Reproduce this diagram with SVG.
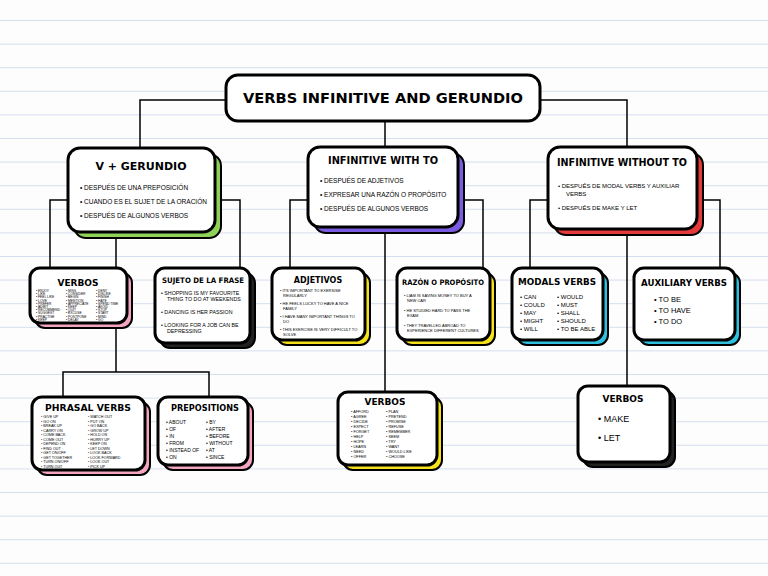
<svg xmlns="http://www.w3.org/2000/svg" width="768" height="576" viewBox="0 0 768 576">
<defs>
<pattern id="lines" width="768" height="23.6" patternUnits="userSpaceOnUse" y="20">
<line x1="0" y1="0.5" x2="768" y2="0.5" stroke="#d5deee" stroke-width="1"/>
</pattern>
</defs>
<style>
.box{fill:#fff;stroke:#000;stroke-width:3}
.sh{stroke:#000;stroke-width:2}
.h{font-family:"DejaVu Sans",sans-serif;font-weight:bold;fill:#000;text-anchor:middle}
.t{font-family:"Liberation Sans",Arial,sans-serif;fill:#000}
.c{fill:none;stroke:#000;stroke-width:1.5}
</style>
<rect width="768" height="576" fill="#fdfdfd"/>
<rect width="768" height="576" fill="url(#lines)"/>
<g id="connectors">
<path class="c" d="M140 150V100H230M538 100H627V150M385 120V150"/>
<path class="c" d="M68 200H50V268M215 200H240V268M116 232V372M63 397V372H209V397"/>
<path class="c" d="M308 200H290V268M458 200H483V268M385 227V392"/>
<path class="c" d="M548 200H530V268M697 200H720V268M627 229V386"/>
</g>
<g id="title">
<rect x="226" y="75" width="314" height="46" rx="12" class="box"/>
<text x="383" y="103" class="h" font-size="14" textLength="280" lengthAdjust="spacingAndGlyphs">VERBS INFINITIVE AND GERUNDIO</text>
</g>
<g id="vgerundio">
<rect x="74" y="154" width="147" height="84" rx="12" fill="#8fd25a" class="sh"/>
<rect x="68" y="148" width="147" height="84" rx="12" class="box"/>
<text x="141" y="170" class="h" font-size="11">V + GERUNDIO</text>
<g class="t" font-size="6.5"><text x="80" y="190">•  DESPUÉS DE UNA PREPOSICIÓN</text><text x="80" y="204">•  CUANDO ES EL SUJET DE LA ORACIÓN</text><text x="80" y="218">•  DESPUÉS DE ALGUNOS VERBOS</text></g>
</g>
<g id="inftwith">
<rect x="314" y="153" width="150" height="80" rx="12" fill="#7b5ce0" class="sh"/>
<rect x="308" y="147" width="150" height="80" rx="12" class="box"/>
<text x="383" y="164" class="h" font-size="10" textLength="110" lengthAdjust="spacingAndGlyphs">INFINITIVE WITH TO</text>
<g class="t" font-size="6.5"><text x="320" y="183">•  DESPUÉS DE ADJETIVOS</text><text x="320" y="197">•  EXPRESAR UNA RAZÓN O PROPÓSITO</text><text x="320" y="211">•  DESPUÉS DE ALGUNOS VERBOS</text></g>
</g>
<g id="infwithout">
<rect x="554" y="153" width="149" height="82" rx="12" fill="#e53a3a" class="sh"/>
<rect x="548" y="147" width="149" height="82" rx="12" class="box"/>
<text x="622" y="166" class="h" font-size="10" textLength="130" lengthAdjust="spacingAndGlyphs">INFINITIVE WITHOUT TO</text>
<g class="t" font-size="6"><text x="558" y="188">•  DESPUÉS DE MODAL VERBS Y AUXILIAR</text><text x="566" y="196">VERBS</text><text x="558" y="210">•  DESPUÉS DE MAKE Y LET</text></g>
</g>
<g id="verbos1">
<rect x="35" y="273" width="97" height="55" rx="10" fill="#f4a6c0" class="sh"/>
<rect x="30" y="268" width="97" height="55" rx="10" class="box"/>
<text x="78" y="286" class="h" font-size="9">VERBOS</text>
<g class="t" font-size="3.3"><text x="36" y="292">• ENJOY</text><text x="36" y="295.2">• LIKE</text><text x="36" y="298.4">• FEEL LIKE</text><text x="36" y="301.6">• LOVE</text><text x="36" y="304.8">• PREFER</text><text x="36" y="308">• ADMIT</text><text x="36" y="311.2">• RECOMMEND</text><text x="36" y="314.4">• SUGGEST</text><text x="36" y="317.6">• PRACTISE</text><text x="36" y="320.8">• KEEP</text>
<text x="66" y="292">• MISS</text><text x="66" y="295.2">• CONSIDER</text><text x="66" y="298.4">• BEGIN</text><text x="66" y="301.6">• MENTION</text><text x="66" y="304.8">• APPRECIATE</text><text x="66" y="308">• KEEP</text><text x="66" y="311.2">• QUIT</text><text x="66" y="314.4">• EXCUSE</text><text x="66" y="317.6">• POSTPONE</text><text x="66" y="320.8">• DELAY</text>
<text x="96" y="292">• DENY</text><text x="96" y="295.2">• DISLIKE</text><text x="96" y="298.4">• FINISH</text><text x="96" y="301.6">• HATE</text><text x="96" y="304.8">• SPEND TIME</text><text x="96" y="308">• AVOID</text><text x="96" y="311.2">• STOP</text><text x="96" y="314.4">• START</text><text x="96" y="317.6">• MIND</text><text x="96" y="320.8">• GO</text></g>
</g>
<g id="sujeto">
<rect x="160" y="273" width="95" height="75" rx="10" fill="#222" class="sh"/>
<rect x="155" y="268" width="95" height="75" rx="10" class="box"/>
<text x="203" y="283" class="h" font-size="7.5" textLength="82" lengthAdjust="spacingAndGlyphs">SUJETO DE LA FRASE</text>
<g class="t" font-size="5.3"><text x="161" y="295">•  SHOPPING IS MY FAVOURITE</text><text x="167" y="301">THING TO DO AT WEEKENDS</text><text x="161" y="314">•  DANCING IS HER PASSION</text><text x="161" y="327">•  LOOKING FOR A JOB CAN BE</text><text x="167" y="333">DEPRESSING</text></g>
</g>
<g id="adjetivos">
<rect x="277" y="273" width="93" height="72" rx="10" fill="#f5e21a" class="sh"/>
<rect x="272" y="268" width="93" height="72" rx="10" class="box"/>
<text x="318" y="283" class="h" font-size="8">ADJETIVOS</text>
<g class="t" font-size="4"><text x="280" y="292">• ITS IMPORTANT TO EXERSISE</text><text x="283" y="296.5">REGULARLY</text><text x="280" y="305">• HE FEELS LUCKY TO HAVE A NICE</text><text x="283" y="309.5">FAMILY</text><text x="280" y="318">• I HAVE MANY IMPORTANT THINGS TO</text><text x="283" y="322.5">DO</text><text x="280" y="331">• THIS EXERCISE IS VERY DIFFICULT TO</text><text x="283" y="335.5">SOLVE</text></g>
</g>
<g id="razon">
<rect x="402" y="273" width="93" height="72" rx="10" fill="#f5e21a" class="sh"/>
<rect x="397" y="268" width="93" height="72" rx="10" class="box"/>
<text x="443" y="285" class="h" font-size="7.5" textLength="82" lengthAdjust="spacingAndGlyphs">RAZÓN O PROPÓSITO</text>
<g class="t" font-size="4"><text x="404" y="297">• LIAM IS SAVING MONEY TO BUY A</text><text x="407" y="301.5">NEW CAR</text><text x="404" y="312">• HE STUDIED HARD TO PASS THE</text><text x="407" y="316.5">EXAM</text><text x="404" y="327">• THEY TRAVELLED ABROAD TO</text><text x="407" y="331.5">EXPERIENCE DIFFERENT CULTURES</text></g>
</g>
<g id="modals">
<rect x="517" y="273" width="91" height="72" rx="10" fill="#2fc0e0" class="sh"/>
<rect x="512" y="268" width="91" height="72" rx="10" class="box"/>
<text x="557" y="285" class="h" font-size="8" textLength="78" lengthAdjust="spacingAndGlyphs">MODALS VERBS</text>
<g class="t" font-size="6"><text x="520" y="299">•  CAN</text><text x="520" y="307">•  COULD</text><text x="520" y="315">•  MAY</text><text x="520" y="323">•  MIGHT</text><text x="520" y="331">•  WILL</text>
<text x="557" y="299">•  WOULD</text><text x="557" y="307">•  MUST</text><text x="557" y="315">•  SHALL</text><text x="557" y="323">•  SHOULD</text><text x="557" y="331">•  TO BE ABLE</text></g>
</g>
<g id="auxiliary">
<rect x="639" y="273" width="101" height="72" rx="10" fill="#2fc0e0" class="sh"/>
<rect x="634" y="268" width="101" height="72" rx="10" class="box"/>
<text x="684" y="286" class="h" font-size="8" textLength="86" lengthAdjust="spacingAndGlyphs">AUXILIARY VERBS</text>
<g class="t" font-size="7.5"><text x="654" y="302">•  TO BE</text><text x="654" y="313">•  TO HAVE</text><text x="654" y="324">•  TO DO</text></g>
</g>
<g id="phrasal">
<rect x="37" y="402" width="113" height="73" rx="10" fill="#f4a6c0" class="sh"/>
<rect x="32" y="397" width="113" height="73" rx="10" class="box"/>
<text x="88" y="411" class="h" font-size="8.5" textLength="86" lengthAdjust="spacingAndGlyphs">PHRASAL VERBS</text>
<g class="t" font-size="3.7"><text x="41" y="418">• GIVE UP</text><text x="41" y="422.5">• GO ON</text><text x="41" y="427">• BREAK UP</text><text x="41" y="431.5">• CARRY ON</text><text x="41" y="436">• COME BACK</text><text x="41" y="440.5">• COME OUT</text><text x="41" y="445">• DEPEND ON</text><text x="41" y="449.5">• FIND OUT</text><text x="41" y="454">• GET ON/OFF</text><text x="41" y="458.5">• GET TOGETHER</text><text x="41" y="463">• TURN ON/OFF</text><text x="41" y="467.5">• TURN OUT</text>
<text x="88" y="418">• WATCH OUT</text><text x="88" y="422.5">• PUT ON</text><text x="88" y="427">• GO BACK</text><text x="88" y="431.5">• GROW UP</text><text x="88" y="436">• HOLD ON</text><text x="88" y="440.5">• HURRY UP</text><text x="88" y="445">• KEEP ON</text><text x="88" y="449.5">• LET DOWN</text><text x="88" y="454">• LOOK BACK</text><text x="88" y="458.5">• LOOK FORWARD</text><text x="88" y="463">• LOOK OUT</text><text x="88" y="467.5">• PICK UP</text></g>
</g>
<g id="prepositions">
<rect x="163" y="402" width="90" height="68" rx="10" fill="#f4a6c0" class="sh"/>
<rect x="158" y="397" width="90" height="68" rx="10" class="box"/>
<text x="205" y="411" class="h" font-size="8.5" textLength="68" lengthAdjust="spacingAndGlyphs">PREPOSITIONS</text>
<g class="t" font-size="5"><text x="166" y="424">•  ABOUT</text><text x="166" y="431">•  OF</text><text x="166" y="438">•  IN</text><text x="166" y="445">•  FROM</text><text x="166" y="452">•  INSTEAD OF</text><text x="166" y="459">•  ON</text>
<text x="206" y="424">•  BY</text><text x="206" y="431">•  AFTER</text><text x="206" y="438">•  BEFORE</text><text x="206" y="445">•  WITHOUT</text><text x="206" y="452">•  AT</text><text x="206" y="459">•  SINCE</text></g>
</g>
<g id="verbos2">
<rect x="343" y="397" width="99" height="73" rx="10" fill="#f5e21a" class="sh"/>
<rect x="338" y="392" width="99" height="73" rx="10" class="box"/>
<text x="385" y="405" class="h" font-size="9">VERBOS</text>
<g class="t" font-size="3.8"><text x="351" y="413">• AFFORD</text><text x="351" y="418">• AGREE</text><text x="351" y="423">• DECIDE</text><text x="351" y="428">• EXPECT</text><text x="351" y="433">• FORGET</text><text x="351" y="438">• HELP</text><text x="351" y="443">• HOPE</text><text x="351" y="448">• LEARN</text><text x="351" y="453">• NEED</text><text x="351" y="458">• OFFER</text>
<text x="386" y="413">• PLAN</text><text x="386" y="418">• PRETEND</text><text x="386" y="423">• PROMISE</text><text x="386" y="428">• REFUSE</text><text x="386" y="433">• REMEMBER</text><text x="386" y="438">• SEEM</text><text x="386" y="443">• TRY</text><text x="386" y="448">• WANT</text><text x="386" y="453">• WOULD LIKE</text><text x="386" y="458">• CHOOSE</text></g>
</g>
<g id="verbos3">
<rect x="583" y="391" width="92" height="76" rx="10" fill="#222" class="sh"/>
<rect x="578" y="386" width="92" height="76" rx="10" class="box"/>
<text x="623" y="402" class="h" font-size="9">VERBOS</text>
<g class="t" font-size="9"><text x="598" y="422">•  MAKE</text><text x="598" y="441">•  LET</text></g>
</g>
</svg>
